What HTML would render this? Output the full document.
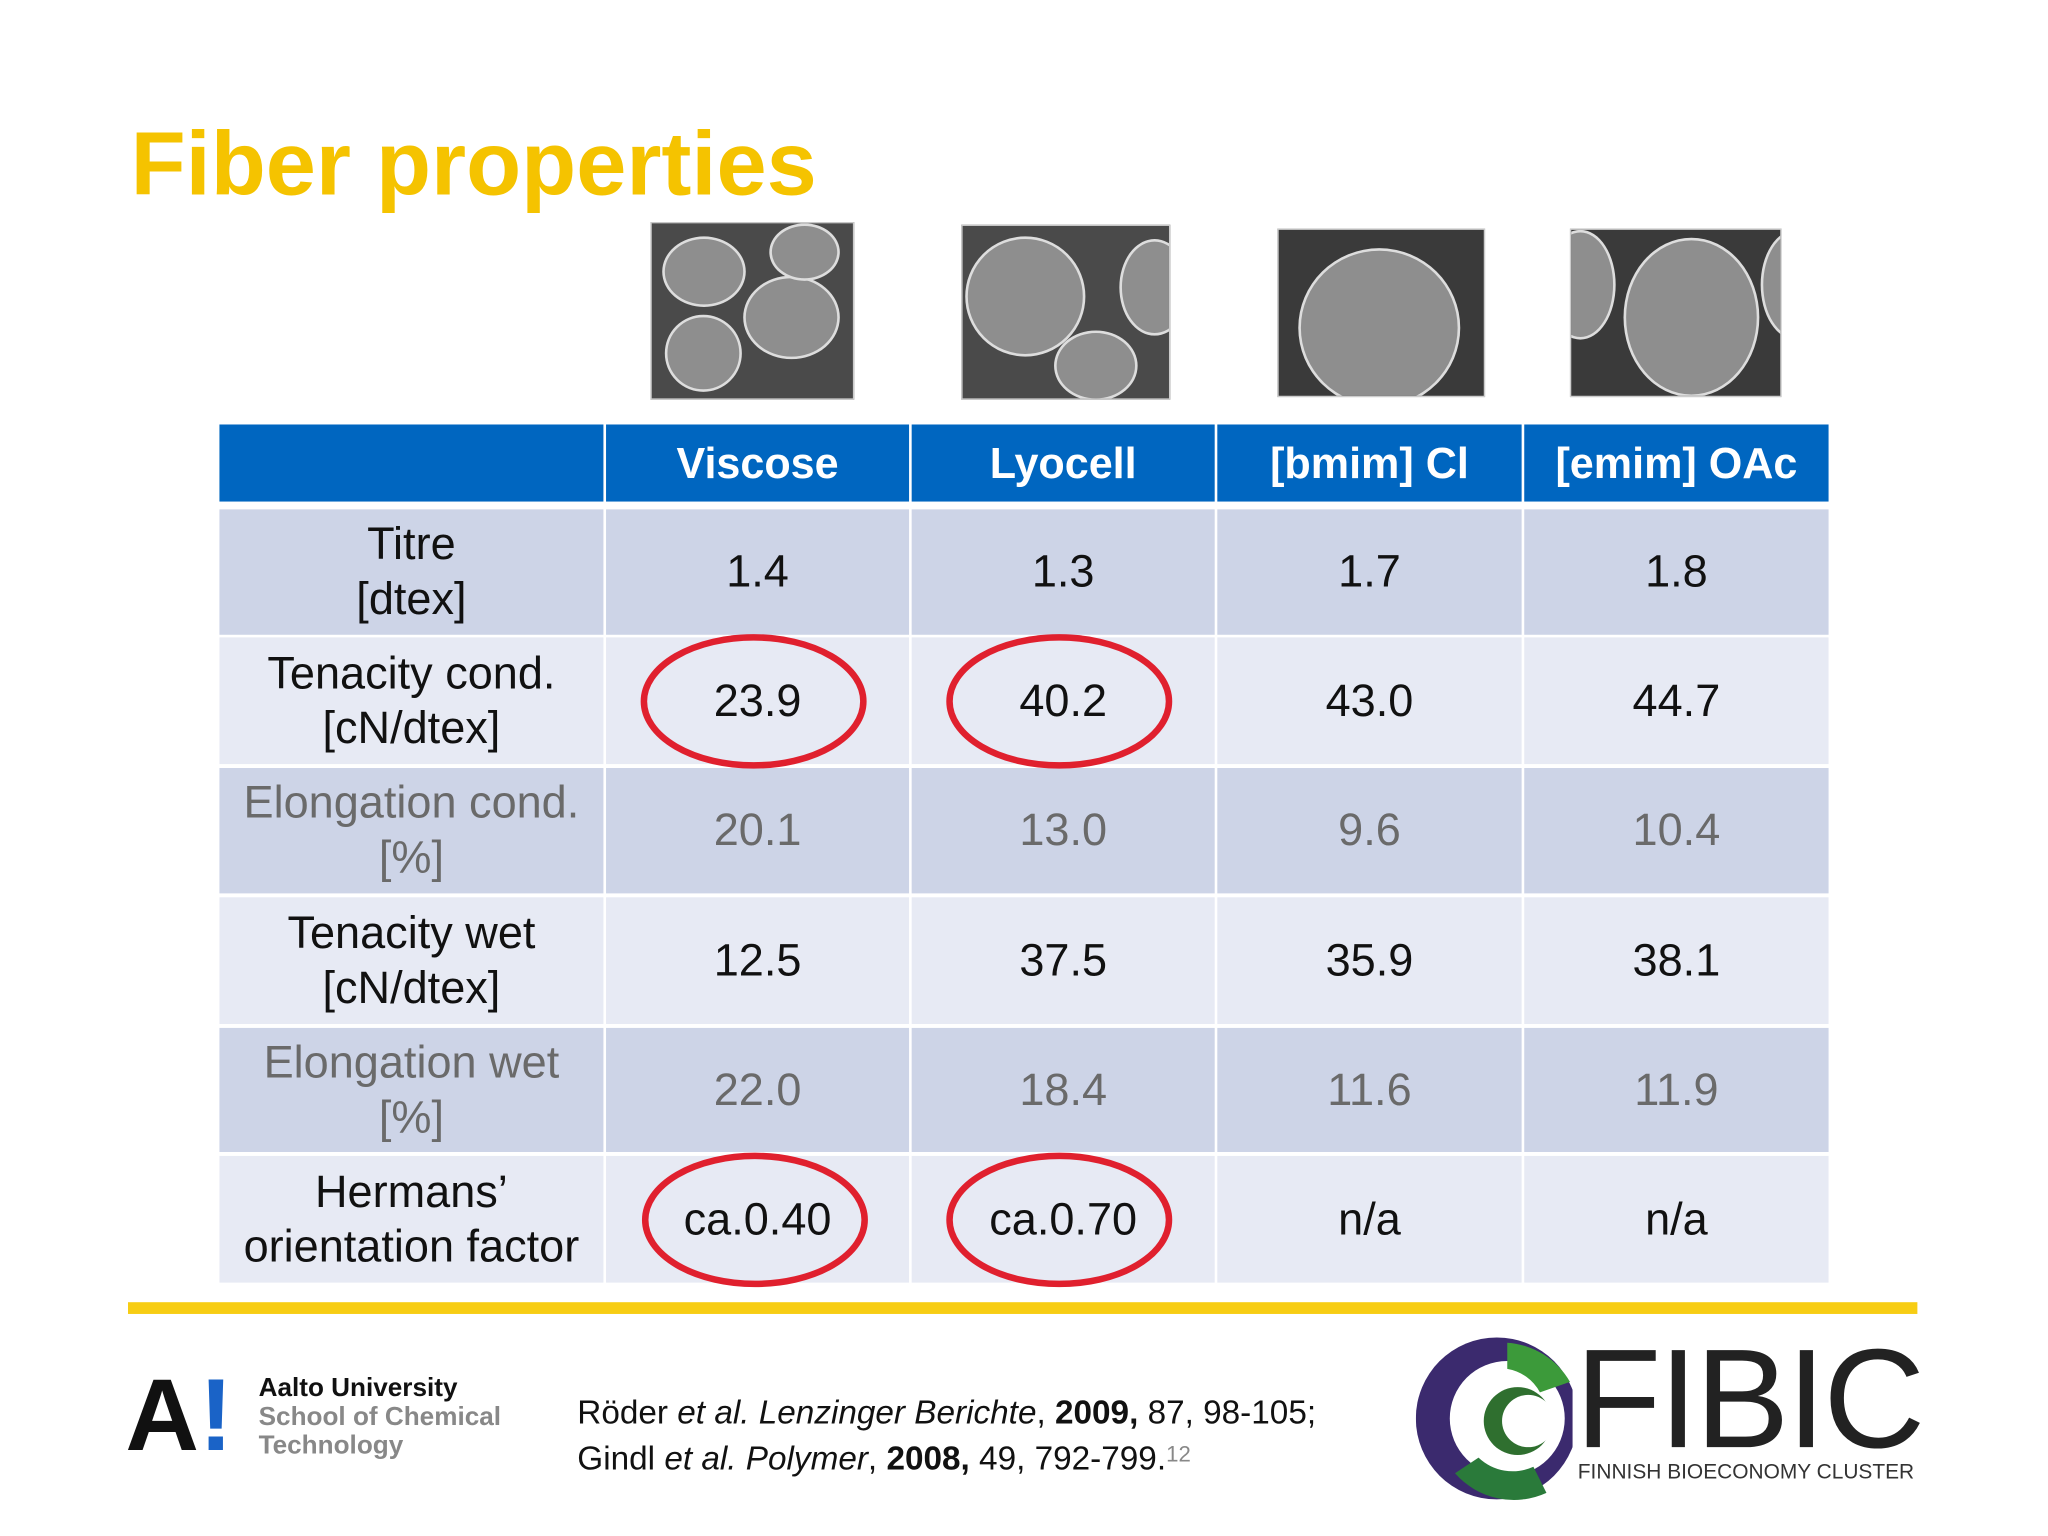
<!DOCTYPE html>
<html><head><meta charset="utf-8"><style>
html,body{margin:0;padding:0;background:#fff;width:2048px;height:1536px;overflow:hidden}
#s{position:absolute;left:0;top:0;width:1568px;height:1176px;transform:scale(1.30612);transform-origin:0 0;font-family:"Liberation Sans",sans-serif}
.a{position:absolute}
.cell{position:absolute;display:flex;align-items:center;justify-content:center;text-align:center;font-size:34.5px;line-height:42px;color:#111}
.h{background:#0066C0;color:#fff;font-weight:bold;font-size:33px}
.g{color:#6a6a6a}
.img{position:absolute;border:1px solid #ccc;overflow:hidden}
.img i{position:absolute;border-radius:50%;background:#8e8e8e;border:2px solid #ddd}
</style></head><body>
<div id="s">
<div class="a" style="left:100px;top:86px;font-size:69px;font-weight:bold;color:#F5C300">Fiber properties</div>

<div class="img" style="left:498px;top:170px;width:154px;height:134px;background:#4a4a4a"><i style="left:8px;top:10px;width:60px;height:50px"></i><i style="left:70px;top:40px;width:70px;height:60px"></i><i style="left:10px;top:70px;width:55px;height:55px"></i><i style="left:90px;top:0px;width:50px;height:40px"></i></div>
<div class="img" style="left:736px;top:172px;width:158px;height:132px;background:#4a4a4a"><i style="left:2px;top:8px;width:88px;height:88px"></i><i style="left:70px;top:80px;width:60px;height:50px"></i><i style="left:120px;top:10px;width:50px;height:70px"></i></div>
<div class="img" style="left:978px;top:175px;width:157px;height:127px;background:#3a3a3a"><i style="left:15px;top:14px;width:120px;height:118px"></i></div>
<div class="img" style="left:1202px;top:175px;width:160px;height:127px;background:#3a3a3a"><i style="left:40px;top:6px;width:100px;height:118px"></i><i style="left:-20px;top:0px;width:50px;height:80px"></i><i style="left:145px;top:0px;width:50px;height:80px"></i></div>

<div id="t"></div>

<div class="a" style="left:98px;top:997px;width:1370px;height:9px;background:#F7CD14"></div>

<div class="a" style="left:96px;top:1048px;font-size:78px;font-weight:bold;color:#111;line-height:70px">A<span style="color:#1a63c7">!</span></div>
<div class="a" style="left:198px;top:1052px;font-size:20px;font-weight:bold;line-height:22px;color:#111">Aalto University<br><span style="color:#888">School of Chemical<br>Technology</span></div>
<div class="a" style="left:442px;top:1066px;font-size:25.5px;line-height:32px;color:#111">Röder <i>et al. Lenzinger Berichte</i>, <b>2009,</b> 87, 98-105;<br>Gindl <i>et al. Polymer</i>, <b>2008,</b> 49, 792-799.<span style="font-size:17px;color:#888;vertical-align:6px">12</span></div>

<svg class="a" style="left:1084px;top:1018px" width="120" height="135" viewBox="0 0 120 135">
<circle cx="62" cy="68" r="62" fill="#3b2a6e"/><circle cx="70" cy="68" r="44" fill="#fff"/>
<path d="M70 10 A60 60 0 0 1 118 40 L95 48 A35 35 0 0 0 70 30Z" fill="#3c9a3a"/>
<path d="M30 110 A60 60 0 0 0 100 125 L90 105 A38 38 0 0 1 48 98Z" fill="#2a7a3a"/>
<circle cx="78" cy="70" r="26" fill="#2f6f2f"/><circle cx="86" cy="70" r="20" fill="#fff"/>
</svg>
<div class="a" style="left:1206px;top:1016px;font-size:108px;line-height:110px;color:#222;letter-spacing:-2px">FIBIC</div>
<div class="a" style="left:1208px;top:1119px;font-size:16px;color:#333">FINNISH BIOECONOMY CLUSTER</div>

<svg class="a" style="left:0;top:0" width="1568" height="1176">
<ellipse cx="577" cy="537" rx="84" ry="49" fill="none" stroke="#E0202E" stroke-width="5"/>
<ellipse cx="811" cy="537" rx="84" ry="49" fill="none" stroke="#E0202E" stroke-width="5"/>
<ellipse cx="578" cy="934" rx="84" ry="49" fill="none" stroke="#E0202E" stroke-width="5"/>
<ellipse cx="811" cy="934" rx="84" ry="49" fill="none" stroke="#E0202E" stroke-width="5"/>
</svg>
</div>
<script>
const cols=[[168,294],[464,232],[698,232],[932,233],[1167,233]];
const heads=["","Viscose","Lyocell","[bmim] Cl","[emim] OAc"];
const rowsY=[[390,96],[488,97],[588,96],[687,97],[787,95],[885,97]];
const rows=[["Titre<br>[dtex]","1.4","1.3","1.7","1.8"],["Tenacity cond.<br>[cN/dtex]","23.9","40.2","43.0","44.7"],["Elongation cond.<br>[%]","20.1","13.0","9.6","10.4"],["Tenacity wet<br>[cN/dtex]","12.5","37.5","35.9","38.1"],["Elongation wet<br>[%]","22.0","18.4","11.6","11.9"],["Hermans’<br>orientation factor","ca.0.40","ca.0.70","n/a","n/a"]];
const t=document.getElementById('t');
heads.forEach((h,i)=>{const d=document.createElement('div');d.className='cell h';
d.style.cssText=`left:${cols[i][0]}px;top:325px;width:${cols[i][1]}px;height:59px`;d.innerHTML=h;


t.appendChild(d);});
rows.forEach((r,ri)=>{r.forEach((v,ci)=>{const d=document.createElement('div');
d.className='cell'+((ri==2||ri==4)?' g':'');
d.style.cssText=`left:${cols[ci][0]}px;top:${rowsY[ri][0]}px;width:${cols[ci][1]}px;height:${rowsY[ri][1]}px;background:${ri%2==0?'#CDD4E7':'#E7EAF4'}`;
d.innerHTML=v;


t.appendChild(d);});});
</script>
</body></html>
